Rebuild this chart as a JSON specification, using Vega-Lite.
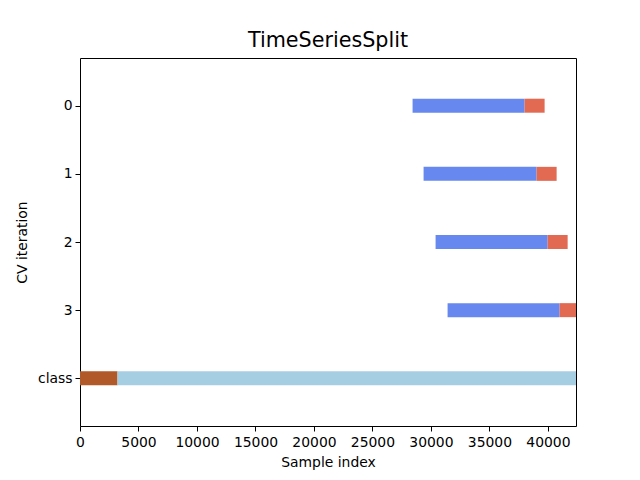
{
  "$schema": "https://vega.github.io/schema/vega-lite/v6.json",
  "autosize": {"type": "none"},
  "width": 496,
  "height": 368,
  "padding": {"left": 80, "top": 58, "right": 64, "bottom": 54},
  "background": "white",
  "title": {"text": "TimeSeriesSplit", "fontSize": 20.7, "font": "DejaVu Sans", "fontWeight": "normal", "color": "black", "offset": 6, "anchor": "middle"},
  "config": {
    "view": {"stroke": "black", "strokeWidth": 1},
    "font": "DejaVu Sans"
  },
  "data": {
    "values": [
      {"row": "0", "start": 28430, "end": 38007, "part": "train"},
      {"row": "0", "start": 38007, "end": 39717, "part": "test"},
      {"row": "1", "start": 29371, "end": 39033, "part": "train"},
      {"row": "1", "start": 39033, "end": 40744, "part": "test"},
      {"row": "2", "start": 30397, "end": 39974, "part": "train"},
      {"row": "2", "start": 39974, "end": 41685, "part": "test"},
      {"row": "3", "start": 31423, "end": 41000, "part": "train"},
      {"row": "3", "start": 41000, "end": 42400, "part": "test"},
      {"row": "class", "start": 0, "end": 3207, "part": "class0"},
      {"row": "class", "start": 3207, "end": 42400, "part": "class1"}
    ]
  },
  "mark": {"type": "bar", "size": 14, "clip": true, "cornerRadius": 0},
  "encoding": {
    "x": {
      "field": "start", "type": "quantitative",
      "scale": {"domain": [0, 42400], "nice": false, "zero": false},
      "axis": {
        "title": "Sample index", "values": [0, 5000, 10000, 15000, 20000, 25000, 30000, 35000, 40000],
        "format": "d", "grid": false, "domain": false, "labelFlush": false,
        "tickColor": "black", "tickSize": 5, "labelPadding": 4, "labelFontSize": 13.9, "labelColor": "black",
        "labelFont": "DejaVu Sans", "titleFont": "DejaVu Sans", "titleFontSize": 13.9, "titleFontWeight": "normal",
        "titleColor": "black", "titlePadding": 7
      }
    },
    "x2": {"field": "end"},
    "y": {
      "field": "row", "type": "nominal",
      "scale": {"type": "point", "domain": ["0", "1", "2", "3", "class"], "padding": 0.7},
      "axis": {
        "title": "CV iteration", "grid": false, "domain": false,
        "tickColor": "black", "tickSize": 5, "labelPadding": 3, "labelFontSize": 13.9, "labelColor": "black",
        "labelFont": "DejaVu Sans", "titleFont": "DejaVu Sans", "titleFontSize": 13.9, "titleFontWeight": "normal",
        "titleColor": "black", "titlePadding": 8
      }
    },
    "color": {
      "field": "part", "type": "nominal",
      "scale": {"domain": ["train", "test", "class0", "class1"], "range": ["#6788ee", "#e26952", "#b15928", "#a6cee3"]},
      "legend": null
    }
  }
}
